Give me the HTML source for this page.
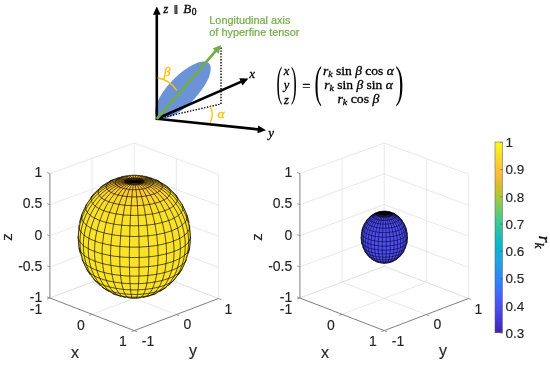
<!DOCTYPE html>
<html><head><meta charset="utf-8"><title>figure</title><style>html,body{margin:0;padding:0;background:#fff}svg{display:block}</style></head><body>
<svg width="550" height="368" viewBox="0 0 550 368">
<rect width="550" height="368" fill="#fff"/>
<line x1="49.9" y1="298" x2="134.2" y2="266.2" stroke="#e2e2e2" stroke-width="0.8"/>
<line x1="134.2" y1="266.2" x2="218.5" y2="298.5" stroke="#e2e2e2" stroke-width="0.8"/>
<line x1="92" y1="314.3" x2="176.3" y2="282.4" stroke="#e2e2e2" stroke-width="0.8"/>
<line x1="176.3" y1="314.6" x2="92" y2="282.1" stroke="#e2e2e2" stroke-width="0.8"/>
<line x1="49.9" y1="298" x2="134.2" y2="266.2" stroke="#e2e2e2" stroke-width="0.8"/>
<line x1="134.2" y1="266.2" x2="218.5" y2="298.5" stroke="#e2e2e2" stroke-width="0.8"/>
<line x1="49.9" y1="266.9" x2="134.2" y2="235.4" stroke="#e2e2e2" stroke-width="0.8"/>
<line x1="134.2" y1="235.4" x2="218.5" y2="267.4" stroke="#e2e2e2" stroke-width="0.8"/>
<line x1="49.9" y1="235.8" x2="134.2" y2="204.6" stroke="#e2e2e2" stroke-width="0.8"/>
<line x1="134.2" y1="204.6" x2="218.5" y2="236.3" stroke="#e2e2e2" stroke-width="0.8"/>
<line x1="49.9" y1="204.7" x2="134.2" y2="173.8" stroke="#e2e2e2" stroke-width="0.8"/>
<line x1="134.2" y1="173.8" x2="218.5" y2="205.3" stroke="#e2e2e2" stroke-width="0.8"/>
<line x1="49.9" y1="173.6" x2="134.2" y2="143" stroke="#e2e2e2" stroke-width="0.8"/>
<line x1="134.2" y1="143" x2="218.5" y2="174.2" stroke="#e2e2e2" stroke-width="0.8"/>
<line x1="134.2" y1="266.2" x2="134.2" y2="143" stroke="#e2e2e2" stroke-width="0.8"/>
<line x1="218.5" y1="298.5" x2="218.5" y2="174.2" stroke="#e2e2e2" stroke-width="0.8"/>
<line x1="92" y1="282.1" x2="92" y2="158.3" stroke="#e2e2e2" stroke-width="0.8"/>
<line x1="176.3" y1="282.4" x2="176.3" y2="158.6" stroke="#e2e2e2" stroke-width="0.8"/>
<clipPath id="clip0"><ellipse cx="134.3" cy="236.6" rx="56.2" ry="61.6"/></clipPath>
<ellipse cx="134.3" cy="236.6" rx="56.2" ry="61.6" fill="#fae22a"/>
<g clip-path="url(#clip0)">
<ellipse cx="134.3" cy="199.4" rx="43.1" ry="16" fill="#fbdc2c"/>
<ellipse cx="134.3" cy="192.2" rx="36.1" ry="13.5" fill="#fcd42f"/>
<ellipse cx="134.3" cy="186.5" rx="28.1" ry="10.5" fill="#fdc933"/>
<ellipse cx="134.3" cy="182.6" rx="19.1" ry="7.1" fill="#fdbe36"/>
<ellipse cx="134.3" cy="181.4" rx="9.4" ry="3.5" fill="#7a5a10"/>
</g>
<path d="M134.3 181.6L136.3 182.3L138.3 182.9L140.3 183.6L142.3 184.4L144.4 185.4L146.4 186.7L148.4 188.2L150.4 189.9L152.3 191.8L154.2 193.9L155.9 196.1L157.7 198.4L159.3 200.9L160.9 203.5L162.4 206.1L163.8 208.8L165.2 211.7L166.4 214.5L167.6 217.5L168.7 220.5L169.7 223.5L170.6 226.6L171.4 229.7L172.1 232.8L172.7 235.9L173.2 239L173.6 242.2L173.8 245.3L174 248.4L174 251.4L174 254.4L173.8 257.4L173.6 260.3L173.2 263.1L172.7 265.9L172.1 268.6L171.4 271.2L170.6 273.7L169.7 276.1L168.7 278.4L167.6 280.6L166.4 282.6L165.2 284.6L163.8 286.4L162.4 288L160.9 289.6L159.3 290.9L157.7 292.2L155.9 293.3L154.2 294.2L152.3 294.9M134.3 181.6L136.6 182.1L138.9 182.6L141.3 183.2L143.6 183.8L146 184.7L148.4 185.8L150.7 187.2L153 188.7L155.2 190.5L157.3 192.5L159.4 194.6L161.4 196.8L163.3 199.1L165.1 201.6L166.9 204.1L168.5 206.8L170.1 209.5L171.5 212.3L172.9 215.1L174.2 218L175.3 221L176.4 224L177.3 227.1L178.1 230.1L178.8 233.2L179.3 236.3L179.8 239.4L180.1 242.5L180.3 245.6L180.3 248.6L180.3 251.6L180.1 254.6L179.8 257.5L179.3 260.4L178.8 263.2L178.1 265.9L177.3 268.6L176.4 271.1L175.3 273.6L174.2 276L172.9 278.2L171.5 280.4L170.1 282.4L168.5 284.3L166.9 286.1L165.1 287.7L163.3 289.2L161.4 290.5L159.4 291.7M134.3 181.6L136.8 182L139.4 182.3L142 182.7L144.6 183.2L147.2 183.9L149.9 184.8L152.4 186L154.9 187.5L157.4 189.1L159.7 190.9L162 192.9L164.2 194.9L166.4 197.2L168.4 199.5L170.3 201.9L172.2 204.4L173.9 207L175.5 209.7L177 212.5L178.4 215.3L179.7 218.2L180.8 221.1L181.9 224.1L182.7 227.1L183.5 230.2L184.1 233.2L184.6 236.3L185 239.3L185.2 242.4L185.2 245.5L185.2 248.5L185 251.5L184.6 254.4L184.1 257.3L183.5 260.1L182.7 262.9L181.9 265.6L180.8 268.2L179.7 270.8L178.4 273.2L177 275.6L175.5 277.8L173.9 279.9L172.2 281.9L170.3 283.8L168.4 285.6M134.3 181.6L137 181.8L139.7 182L142.5 182.2L145.3 182.5L148.1 183L150.9 183.8L153.6 184.8L156.3 186.1L158.9 187.5L161.4 189.2L163.9 191L166.2 192.9L168.5 195L170.6 197.2L172.7 199.5L174.6 201.9L176.5 204.4L178.2 206.9L179.8 209.6L181.3 212.3L182.7 215.1L183.9 218L185 220.9L185.9 223.9L186.7 226.8L187.4 229.9L187.9 232.9L188.3 235.9L188.5 239L188.6 242L188.5 245L188.3 248L187.9 251L187.4 253.9L186.7 256.8L185.9 259.7L185 262.4L183.9 265.1L182.7 267.7L181.3 270.3L179.8 272.7L178.2 275M134.3 181.6L137.1 181.6L139.9 181.6L142.8 181.6L145.6 181.8L148.5 182.1L151.4 182.7L154.2 183.5L157 184.6L159.7 185.9L162.3 187.4L164.8 189L167.2 190.8L169.5 192.7L171.8 194.8L173.9 196.9L175.9 199.2L177.8 201.6L179.6 204L181.3 206.6L182.8 209.2L184.2 211.9L185.4 214.7L186.6 217.5L187.5 220.4L188.4 223.4L189.1 226.3L189.6 229.3L190 232.4L190.2 235.4L190.3 238.4L190.2 241.5L190 244.5L189.6 247.5L189.1 250.4L188.4 253.4M134.3 181.6L137.1 181.4L139.9 181.3L142.8 181.1L145.6 181L148.5 181.2L151.4 181.6L154.2 182.2L157 183.1L159.7 184.3L162.3 185.6L164.8 187L167.2 188.7L169.5 190.4L171.8 192.3L173.9 194.3L175.9 196.5L177.8 198.7L179.6 201.1L181.3 203.5L182.8 206.1L184.2 208.7L185.4 211.4L186.6 214.1L187.5 217L188.4 219.8L189.1 222.8M134.3 181.6L137 181.3L139.7 180.9L142.5 180.6L145.3 180.3L148.1 180.3L150.9 180.5L153.6 181L156.3 181.7L158.9 182.6L161.4 183.8L163.9 185.1L166.2 186.6L168.5 188.2L170.6 189.9L172.7 191.8L174.6 193.8L176.5 195.9L178.2 198.2M134.3 181.6L136.8 181.1L139.4 180.6L142 180L144.6 179.6L147.2 179.4L149.9 179.4L152.4 179.7L154.9 180.3L157.4 181.1L159.7 182.1L162 183.2L164.2 184.5L166.4 186L168.4 187.6M134.3 181.6L136.6 180.9L138.9 180.2L141.3 179.6L143.6 179L146 178.6L148.4 178.5L150.7 178.6L153 179L155.2 179.6L157.3 180.5L159.4 181.5M134.3 181.6L136.3 180.8L138.3 180L140.3 179.1L142.3 178.4L144.4 177.9L146.4 177.6L148.4 177.6L150.4 177.9L152.3 178.4M134.3 181.6L135.9 180.7L137.5 179.7L139.2 178.8L140.8 177.9L142.5 177.3L144.1 176.9L145.8 176.8L147.4 176.9M134.3 181.6L135.5 180.6L136.7 179.5L137.9 178.5L139.1 177.6L140.3 176.8L141.6 176.3L142.8 176.1M134.3 181.6L135 180.5L135.8 179.4L136.5 178.3L137.2 177.3L138 176.5L138.7 176L139.5 175.7M134.3 181.6L134.5 180.5L134.8 179.3L135 178.2L135.3 177.2L135.5 176.4L135.8 175.8M134.3 181.6L134.1 180.5L133.8 179.3L133.6 178.2L133.3 177.2L133.1 176.4L132.8 175.8M134.3 181.6L133.6 180.5L132.8 179.4L132.1 178.3L131.4 177.3L130.6 176.5L129.9 176L129.1 175.7M134.3 181.6L133.1 180.6L131.9 179.5L130.7 178.5L129.5 177.6L128.3 176.8L127 176.3L125.8 176.1M134.3 181.6L132.7 180.7L131.1 179.7L129.4 178.8L127.8 177.9L126.1 177.3L124.5 176.9L122.8 176.8L121.2 176.9M134.3 181.6L132.3 180.8L130.3 180L128.3 179.1L126.3 178.4L124.2 177.9L122.2 177.6L120.2 177.6L118.2 177.9L116.3 178.4M134.3 181.6L132 180.9L129.7 180.2L127.3 179.6L125 179L122.6 178.6L120.2 178.5L117.9 178.6L115.6 179L113.4 179.6L111.3 180.5L109.2 181.5M134.3 181.6L131.8 181.1L129.2 180.6L126.6 180L124 179.6L121.4 179.4L118.7 179.4L116.2 179.7L113.7 180.3L111.2 181.1L108.9 182.1L106.6 183.2L104.4 184.5L102.2 186L100.2 187.6M134.3 181.6L131.6 181.3L128.9 180.9L126.1 180.6L123.3 180.3L120.5 180.3L117.7 180.5L115 181L112.3 181.7L109.7 182.6L107.2 183.8L104.7 185.1L102.4 186.6L100.1 188.2L98 189.9L95.9 191.8L94 193.8L92.1 195.9L90.4 198.2M134.3 181.6L131.5 181.4L128.7 181.3L125.8 181.1L123 181L120.1 181.2L117.2 181.6L114.4 182.2L111.6 183.1L108.9 184.3L106.3 185.6L103.8 187L101.4 188.7L99.1 190.4L96.8 192.3L94.7 194.3L92.7 196.5L90.8 198.7L89 201.1L87.3 203.5L85.8 206.1L84.4 208.7L83.2 211.4L82 214.1L81.1 217L80.2 219.8L79.5 222.8M134.3 181.6L131.5 181.6L128.7 181.6L125.8 181.6L123 181.8L120.1 182.1L117.2 182.7L114.4 183.5L111.6 184.6L108.9 185.9L106.3 187.4L103.8 189L101.4 190.8L99.1 192.7L96.8 194.8L94.7 196.9L92.7 199.2L90.8 201.6L89 204L87.3 206.6L85.8 209.2L84.4 211.9L83.2 214.7L82 217.5L81.1 220.4L80.2 223.4L79.5 226.3L79 229.3L78.6 232.4L78.4 235.4L78.3 238.4L78.4 241.5L78.6 244.5L79 247.5L79.5 250.4L80.2 253.4M134.3 181.6L131.6 181.8L128.9 182L126.1 182.2L123.3 182.5L120.5 183L117.7 183.8L115 184.8L112.3 186.1L109.7 187.5L107.2 189.2L104.7 191L102.4 192.9L100.1 195L98 197.2L95.9 199.5L94 201.9L92.1 204.4L90.4 206.9L88.8 209.6L87.3 212.3L85.9 215.1L84.7 218L83.6 220.9L82.7 223.9L81.9 226.8L81.2 229.9L80.7 232.9L80.3 235.9L80.1 239L80 242L80.1 245L80.3 248L80.7 251L81.2 253.9L81.9 256.8L82.7 259.7L83.6 262.4L84.7 265.1L85.9 267.7L87.3 270.3L88.8 272.7L90.4 275M134.3 181.6L131.8 182L129.2 182.3L126.6 182.7L124 183.2L121.4 183.9L118.7 184.8L116.2 186L113.7 187.5L111.2 189.1L108.9 190.9L106.6 192.9L104.4 194.9L102.2 197.2L100.2 199.5L98.3 201.9L96.4 204.4L94.7 207L93.1 209.7L91.6 212.5L90.2 215.3L88.9 218.2L87.8 221.1L86.7 224.1L85.9 227.1L85.1 230.2L84.5 233.2L84 236.3L83.6 239.3L83.4 242.4L83.4 245.5L83.4 248.5L83.6 251.5L84 254.4L84.5 257.3L85.1 260.1L85.9 262.9L86.7 265.6L87.8 268.2L88.9 270.8L90.2 273.2L91.6 275.6L93.1 277.8L94.7 279.9L96.4 281.9L98.3 283.8L100.2 285.6M134.3 181.6L132 182.1L129.7 182.6L127.3 183.2L125 183.8L122.6 184.7L120.2 185.8L117.9 187.2L115.6 188.7L113.4 190.5L111.3 192.5L109.2 194.6L107.2 196.8L105.3 199.1L103.5 201.6L101.7 204.1L100.1 206.8L98.5 209.5L97.1 212.3L95.7 215.1L94.4 218L93.3 221L92.2 224L91.3 227.1L90.5 230.1L89.8 233.2L89.3 236.3L88.8 239.4L88.5 242.5L88.3 245.6L88.3 248.6L88.3 251.6L88.5 254.6L88.8 257.5L89.3 260.4L89.8 263.2L90.5 265.9L91.3 268.6L92.2 271.1L93.3 273.6L94.4 276L95.7 278.2L97.1 280.4L98.5 282.4L100.1 284.3L101.7 286.1L103.5 287.7L105.3 289.2L107.2 290.5L109.2 291.7M134.3 181.6L132.3 182.3L130.3 182.9L128.3 183.6L126.3 184.4L124.2 185.4L122.2 186.7L120.2 188.2L118.2 189.9L116.3 191.8L114.4 193.9L112.7 196.1L110.9 198.4L109.3 200.9L107.7 203.5L106.2 206.1L104.8 208.8L103.4 211.7L102.2 214.5L101 217.5L99.9 220.5L98.9 223.5L98 226.6L97.2 229.7L96.5 232.8L95.9 235.9L95.4 239L95 242.2L94.8 245.3L94.6 248.4L94.6 251.4L94.6 254.4L94.8 257.4L95 260.3L95.4 263.1L95.9 265.9L96.5 268.6L97.2 271.2L98 273.7L98.9 276.1L99.9 278.4L101 280.6L102.2 282.6L103.4 284.6L104.8 286.4L106.2 288L107.7 289.6L109.3 290.9L110.9 292.2L112.7 293.3L114.4 294.2L116.3 294.9M134.3 181.6L132.7 182.4L131.1 183.2L129.4 184L127.8 184.9L126.1 186L124.5 187.4L122.8 189L121.2 190.8L119.7 192.9L118.2 195L116.8 197.4L115.4 199.8L114 202.4L112.7 205L111.5 207.8L110.3 210.6L109.2 213.5L108.2 216.4L107.3 219.4L106.4 222.5L105.6 225.6L104.9 228.7L104.2 231.9L103.6 235L103.2 238.2L102.8 241.3L102.5 244.5L102.2 247.6L102.1 250.7L102.1 253.8L102.1 256.8L102.2 259.7L102.5 262.6L102.8 265.4L103.2 268.2L103.6 270.8L104.2 273.4L104.9 275.8L105.6 278.2L106.4 280.4L107.3 282.5L108.2 284.5L109.2 286.4L110.3 288.1L111.5 289.7L112.7 291.1L114 292.4L115.4 293.6L116.7 294.5L118.2 295.3L119.7 296L121.2 296.5M134.3 181.6L133.1 182.5L131.9 183.3L130.7 184.2L129.5 185.3L128.3 186.5L127 187.9L125.8 189.6L124.7 191.6L123.5 193.7L122.4 196L121.4 198.4L120.3 200.9L119.4 203.5L118.4 206.3L117.5 209.1L116.6 211.9L115.8 214.9L115.1 217.9L114.4 221L113.7 224.1L113.1 227.2L112.6 230.4L112.1 233.6L111.7 236.7L111.4 239.9L111.1 243.1L110.8 246.3L110.7 249.4L110.6 252.5L110.5 255.6L110.6 258.6L110.7 261.5L110.8 264.4L111.1 267.2L111.4 269.9L111.7 272.6L112.1 275.1L112.6 277.5L113.1 279.8L113.7 282L114.4 284.1L115.1 286L115.8 287.8L116.6 289.5L117.5 291L118.4 292.4L119.4 293.6L120.3 294.6L121.4 295.5L122.4 296.3L123.5 296.8L124.6 297.2L125.8 297.5M134.3 181.6L133.6 182.5L132.8 183.5L132.1 184.4L131.4 185.5L130.6 186.8L129.9 188.3L129.1 190.1L128.4 192.1L127.7 194.2L127 196.6L126.4 199L125.8 201.6L125.1 204.3L124.6 207.1L124 209.9L123.5 212.9L123 215.9L122.5 218.9L122.1 222L121.7 225.2L121.3 228.3L121 231.5L120.7 234.7L120.5 237.9L120.3 241.1L120.1 244.3L119.9 247.5L119.8 250.7L119.8 253.8L119.8 256.8L119.8 259.8L119.8 262.8L119.9 265.6L120.1 268.4L120.2 271.1L120.5 273.7L120.7 276.2L121 278.6L121.3 280.9L121.7 283.1L122.1 285.1L122.5 287L123 288.8L123.5 290.4L124 291.9L124.6 293.2L125.1 294.4L125.8 295.4L126.4 296.2L127 296.9L127.7 297.4L128.4 297.8L129.1 297.9M134.3 181.6L134.1 182.6L133.8 183.5L133.6 184.5L133.3 185.6L133.1 187L132.8 188.5L132.6 190.3L132.3 192.3L132.1 194.5L131.9 196.9L131.6 199.4L131.4 202L131.2 204.7L131 207.5L130.8 210.4L130.7 213.3L130.5 216.4L130.3 219.4L130.2 222.5L130.1 225.7L129.9 228.9L129.8 232.1L129.7 235.3L129.6 238.5L129.6 241.8L129.5 245L129.5 248.1L129.4 251.3L129.4 254.4L129.4 257.5L129.4 260.5L129.4 263.4L129.5 266.3L129.5 269.1L129.6 271.7L129.6 274.3L129.7 276.8L129.8 279.2L129.9 281.5L130.1 283.6L130.2 285.6L130.3 287.5L130.5 289.3L130.7 290.9L130.8 292.3L131 293.6L131.2 294.8L131.4 295.7L131.6 296.5L131.9 297.2L132.1 297.7L132.3 298L132.5 298.2M134.3 181.6L134.5 182.6L134.8 183.5L135 184.5L135.3 185.6L135.5 187L135.8 188.5L136 190.3L136.3 192.3L136.5 194.5L136.7 196.9L137 199.4L137.2 202L137.4 204.7L137.6 207.5L137.8 210.4L137.9 213.3L138.1 216.4L138.3 219.4L138.4 222.5L138.5 225.7L138.7 228.9L138.8 232.1L138.9 235.3L139 238.5L139 241.8L139.1 245L139.1 248.1L139.2 251.3L139.2 254.4L139.2 257.5L139.2 260.5L139.2 263.4L139.1 266.3L139.1 269.1L139 271.7L139 274.3L138.9 276.8L138.8 279.2L138.7 281.5L138.5 283.6L138.4 285.6L138.3 287.5L138.1 289.3L137.9 290.9L137.8 292.3L137.6 293.6L137.4 294.8L137.2 295.7L137 296.5L136.7 297.2L136.5 297.7L136.3 298L136.1 298.2M134.3 181.6L135 182.5L135.8 183.5L136.5 184.4L137.2 185.5L138 186.8L138.7 188.3L139.5 190.1L140.2 192.1L140.9 194.2L141.6 196.6L142.2 199L142.8 201.6L143.5 204.3L144 207.1L144.6 209.9L145.1 212.9L145.6 215.9L146.1 218.9L146.5 222L146.9 225.2L147.3 228.3L147.6 231.5L147.9 234.7L148.1 237.9L148.3 241.1L148.5 244.3L148.7 247.5L148.8 250.7L148.8 253.8L148.8 256.8L148.8 259.8L148.8 262.8L148.7 265.6L148.5 268.4L148.4 271.1L148.1 273.7L147.9 276.2L147.6 278.6L147.3 280.9L146.9 283.1L146.5 285.1L146.1 287L145.6 288.8L145.1 290.4L144.6 291.9L144 293.2L143.5 294.4L142.8 295.4L142.2 296.2L141.6 296.9L140.9 297.4L140.2 297.8L139.5 297.9M134.3 181.6L135.5 182.5L136.7 183.3L137.9 184.2L139.1 185.3L140.3 186.5L141.6 187.9L142.8 189.6L143.9 191.6L145.1 193.7L146.2 196L147.2 198.4L148.3 200.9L149.2 203.5L150.2 206.3L151.1 209.1L152 211.9L152.8 214.9L153.5 217.9L154.2 221L154.9 224.1L155.5 227.2L156 230.4L156.5 233.6L156.9 236.7L157.2 239.9L157.5 243.1L157.8 246.3L157.9 249.4L158 252.5L158.1 255.6L158 258.6L157.9 261.5L157.8 264.4L157.5 267.2L157.2 269.9L156.9 272.6L156.5 275.1L156 277.5L155.5 279.8L154.9 282L154.2 284.1L153.5 286L152.8 287.8L152 289.5L151.1 291L150.2 292.4L149.2 293.6L148.3 294.6L147.2 295.5L146.2 296.3L145.1 296.8L144 297.2L142.8 297.5M134.3 181.6L135.9 182.4L137.5 183.2L139.2 184L140.8 184.9L142.5 186L144.1 187.4L145.8 189L147.4 190.8L148.9 192.9L150.4 195L151.8 197.4L153.2 199.8L154.6 202.4L155.9 205L157.1 207.8L158.3 210.6L159.4 213.5L160.4 216.4L161.3 219.4L162.2 222.5L163 225.6L163.7 228.7L164.4 231.9L165 235L165.4 238.2L165.8 241.3L166.1 244.5L166.4 247.6L166.5 250.7L166.5 253.8L166.5 256.8L166.4 259.7L166.1 262.6L165.8 265.4L165.4 268.2L165 270.8L164.4 273.4L163.7 275.8L163 278.2L162.2 280.4L161.3 282.5L160.4 284.5L159.4 286.4L158.3 288.1L157.1 289.7L155.9 291.1L154.6 292.4L153.2 293.6L151.9 294.5L150.4 295.3L148.9 296L147.4 296.5M134.3 177.8L133.8 177.9L133.3 177.9L132.8 177.9L132.3 177.9L131.9 178L131.4 178L130.9 178.1L130.5 178.2L130 178.2L129.6 178.3L129.2 178.4L128.7 178.5L128.4 178.6L128 178.8L127.6 178.9L127.3 179L127 179.2L126.7 179.3L126.4 179.4L126.1 179.6L125.9 179.8L125.7 179.9L125.5 180.1L125.3 180.3L125.2 180.5L125.1 180.6L125 180.8L124.9 181L124.9 181.2L124.9 181.4L124.9 181.6L124.9 181.7L125 181.9L125.1 182.1L125.2 182.3L125.3 182.5L125.5 182.6L125.7 182.8L125.9 183L126.1 183.1L126.4 183.3L126.7 183.4L127 183.6L127.3 183.7L127.6 183.9L128 184L128.4 184.1L128.7 184.2L129.2 184.3L129.6 184.4L130 184.5L130.5 184.6L130.9 184.7L131.4 184.7L131.9 184.8L132.3 184.8L132.8 184.8L133.3 184.9L133.8 184.9L134.3 184.9L134.8 184.9L135.3 184.9L135.8 184.8L136.3 184.8L136.7 184.8L137.2 184.7L137.7 184.7L138.1 184.6L138.6 184.5L139 184.4L139.4 184.3L139.9 184.2L140.2 184.1L140.6 184L141 183.9L141.3 183.7L141.6 183.6L141.9 183.4L142.2 183.3L142.5 183.1L142.7 183L142.9 182.8L143.1 182.6L143.3 182.5L143.4 182.3L143.5 182.1L143.6 181.9L143.7 181.7L143.7 181.6L143.7 181.4L143.7 181.2L143.7 181L143.6 180.8L143.5 180.6L143.4 180.5L143.3 180.3L143.1 180.1L142.9 179.9L142.7 179.8L142.5 179.6L142.2 179.4L141.9 179.3L141.6 179.2L141.3 179L141 178.9L140.6 178.8L140.2 178.6L139.9 178.5L139.4 178.4L139 178.3L138.6 178.2L138.1 178.2L137.7 178.1L137.2 178L136.7 178L136.3 177.9L135.8 177.9L135.3 177.9L134.8 177.9L134.3 177.8M134.3 175.5L133.3 175.5L132.3 175.5L131.3 175.6L130.3 175.7L129.4 175.8L128.4 175.9L127.5 176L126.5 176.1L125.6 176.3L124.8 176.5L123.9 176.7L123.1 176.9L122.3 177.1L121.5 177.3L120.8 177.6L120.1 177.9L119.5 178.1L118.9 178.4L118.3 178.7L117.8 179.1L117.3 179.4L116.9 179.7L116.5 180.1L116.2 180.4L115.9 180.8L115.7 181.1L115.5 181.5L115.3 181.9L115.3 182.2L115.2 182.6L115.3 183L115.3 183.4L115.5 183.7L115.7 184.1L115.9 184.5L116.2 184.8L116.5 185.2L116.9 185.5L117.3 185.8L117.8 186.2L118.3 186.5L118.9 186.8L119.5 187.1L120.1 187.4L120.8 187.6L121.5 187.9L122.3 188.1L123.1 188.4L123.9 188.6L124.8 188.8L125.6 188.9L126.5 189.1L127.5 189.2L128.4 189.4L129.4 189.5L130.3 189.6L131.3 189.6L132.3 189.7L133.3 189.7L134.3 189.7L135.3 189.7L136.3 189.7L137.3 189.6L138.3 189.6L139.2 189.5L140.2 189.4L141.1 189.2L142.1 189.1L143 188.9L143.8 188.8L144.7 188.6L145.5 188.4L146.3 188.1L147.1 187.9L147.8 187.6L148.5 187.4L149.1 187.1L149.7 186.8L150.3 186.5L150.8 186.2L151.3 185.8L151.7 185.5L152.1 185.2L152.4 184.8L152.7 184.5L152.9 184.1L153.1 183.7L153.3 183.4L153.3 183L153.4 182.6L153.3 182.2L153.3 181.9L153.1 181.5L152.9 181.1L152.7 180.8L152.4 180.4L152.1 180.1L151.7 179.7L151.3 179.4L150.8 179.1L150.3 178.7L149.7 178.4L149.1 178.1L148.5 177.9L147.8 177.6L147.1 177.3L146.3 177.1L145.5 176.9L144.7 176.7L143.8 176.5L143 176.3L142.1 176.1L141.1 176L140.2 175.9L139.2 175.8L138.3 175.7L137.3 175.6L136.3 175.5L135.3 175.5L134.3 175.5M112.5 179.9L111.6 180.3L110.8 180.8L110 181.2L109.3 181.7L108.7 182.2L108.1 182.7L107.6 183.2L107.2 183.8L106.8 184.3L106.6 184.8L106.4 185.4L106.3 185.9L106.2 186.5L106.3 187L106.4 187.6L106.6 188.1L106.8 188.6L107.2 189.2L107.6 189.7L108.1 190.2L108.7 190.7L109.3 191.2L110 191.7L110.8 192.2L111.6 192.6L112.5 193.1L113.4 193.5L114.4 193.9L115.5 194.2L116.6 194.6L117.8 194.9L119 195.2L120.3 195.5L121.6 195.8L122.9 196L124.2 196.2L125.6 196.4L127 196.6L128.5 196.7L129.9 196.8L131.4 196.9L132.8 196.9L134.3 196.9L135.8 196.9L137.2 196.9L138.7 196.8L140.1 196.7L141.6 196.6L143 196.4L144.4 196.2L145.7 196L147 195.8L148.3 195.5L149.6 195.2L150.8 194.9L152 194.6L153.1 194.2L154.2 193.9L155.2 193.5L156.1 193.1L157 192.6L157.8 192.2L158.6 191.7L159.3 191.2L159.9 190.7L160.5 190.2L161 189.7L161.4 189.2L161.8 188.6L162 188.1L162.2 187.6L162.3 187L162.4 186.5L162.3 185.9L162.2 185.4L162 184.8L161.8 184.3L161.4 183.8L161 183.2L160.5 182.7L159.9 182.2L159.3 181.7L158.6 181.2L157.8 180.8L157 180.3L156.1 179.9M101.3 186.7L100.6 187.4L99.9 188.1L99.4 188.7L99 189.4L98.6 190.1L98.4 190.8L98.2 191.5L98.2 192.2L98.2 192.9L98.4 193.6L98.6 194.3L99 195L99.4 195.7L99.9 196.4L100.6 197L101.3 197.7L102.1 198.3L103 199L104 199.6L105.1 200.1L106.2 200.7L107.5 201.2L108.8 201.7L110.1 202.2L111.6 202.7L113.1 203.1L114.6 203.5L116.2 203.9L117.9 204.2L119.6 204.5L121.4 204.8L123.1 205L125 205.2L126.8 205.4L128.6 205.5L130.5 205.6L132.4 205.7L134.3 205.7L136.2 205.7L138.1 205.6L140 205.5L141.8 205.4L143.6 205.2L145.5 205L147.2 204.8L149 204.5L150.7 204.2L152.4 203.9L154 203.5L155.5 203.1L157 202.7L158.5 202.2L159.8 201.7L161.1 201.2L162.4 200.7L163.5 200.1L164.6 199.6L165.6 199L166.5 198.3L167.3 197.7L168 197L168.7 196.4L169.2 195.7L169.6 195L170 194.3L170.2 193.6L170.4 192.9L170.4 192.2L170.4 191.5L170.2 190.8L170 190.1L169.6 189.4L169.2 188.7L168.7 188.1L168 187.4L167.3 186.7M93.4 194.4L92.7 195.2L92.2 196L91.8 196.9L91.5 197.7L91.3 198.5L91.2 199.4L91.3 200.2L91.5 201L91.8 201.9L92.2 202.7L92.7 203.5L93.4 204.3L94.1 205.1L95 205.9L95.9 206.6L97 207.4L98.2 208.1L99.5 208.8L100.8 209.5L102.3 210.1L103.9 210.7L105.5 211.3L107.2 211.8L109 212.3L110.9 212.8L112.8 213.3L114.8 213.7L116.8 214L118.9 214.3L121 214.6L123.2 214.9L125.3 215.1L127.6 215.2L129.8 215.3L132 215.4L134.3 215.4L136.6 215.4L138.8 215.3L141 215.2L143.3 215.1L145.4 214.9L147.6 214.6L149.7 214.3L151.8 214L153.8 213.7L155.8 213.3L157.7 212.8L159.6 212.3L161.4 211.8L163.1 211.3L164.7 210.7L166.3 210.1L167.8 209.5L169.1 208.8L170.4 208.1L171.6 207.4L172.7 206.6L173.6 205.9L174.5 205.1L175.2 204.3L175.9 203.5L176.4 202.7L176.8 201.9L177.1 201L177.3 200.2L177.4 199.4L177.3 198.5L177.1 197.7L176.8 196.9L176.4 196L175.9 195.2L175.2 194.4M86.7 203.9L86.2 204.8L85.9 205.7L85.7 206.7L85.6 207.6L85.7 208.6L85.9 209.5L86.2 210.5L86.7 211.4L87.3 212.3L88 213.2L88.9 214.1L89.8 215L90.9 215.9L92.2 216.7L93.5 217.5L94.9 218.3L96.5 219L98.1 219.8L99.9 220.5L101.7 221.1L103.7 221.7L105.7 222.3L107.8 222.8L110 223.3L112.2 223.8L114.5 224.2L116.9 224.6L119.3 224.9L121.7 225.2L124.2 225.4L126.7 225.5L129.2 225.7L131.8 225.7L134.3 225.8L136.8 225.7L139.4 225.7L141.9 225.5L144.4 225.4L146.9 225.2L149.3 224.9L151.7 224.6L154.1 224.2L156.4 223.8L158.6 223.3L160.8 222.8L162.9 222.3L164.9 221.7L166.9 221.1L168.7 220.5L170.5 219.8L172.1 219L173.7 218.3L175.1 217.5L176.4 216.7L177.7 215.9L178.8 215L179.7 214.1L180.6 213.2L181.3 212.3L181.9 211.4L182.4 210.5L182.7 209.5L182.9 208.6L183 207.6L182.9 206.7L182.7 205.7L182.4 204.8L181.9 203.9M81.8 214.7L81.6 215.8L81.5 216.8L81.6 217.8L81.8 218.8L82.1 219.9L82.6 220.9L83.3 221.9L84.1 222.9L85 223.8L86.1 224.8L87.2 225.7L88.6 226.6L90 227.5L91.6 228.4L93.3 229.2L95.1 230L97 230.7L99 231.4L101.1 232.1L103.3 232.7L105.5 233.3L107.9 233.8L110.3 234.3L112.8 234.8L115.4 235.2L118 235.5L120.6 235.8L123.3 236L126 236.2L128.8 236.4L131.5 236.4L134.3 236.5L137.1 236.4L139.8 236.4L142.6 236.2L145.3 236L148 235.8L150.6 235.5L153.2 235.2L155.8 234.8L158.3 234.3L160.7 233.8L163.1 233.3L165.3 232.7L167.5 232.1L169.6 231.4L171.6 230.7L173.5 230L175.3 229.2L177 228.4L178.6 227.5L180 226.6L181.4 225.7L182.5 224.8L183.6 223.8L184.5 222.9L185.3 221.9L186 220.9L186.5 219.9L186.8 218.8L187 217.8L187.1 216.8L187 215.8L186.8 214.7M79 225.5L79 226.5L79 227.6L79.3 228.7L79.6 229.8L80.2 230.8L80.8 231.9L81.7 232.9L82.6 233.9L83.7 234.9L85 235.9L86.4 236.9L87.9 237.8L89.5 238.7L91.3 239.5L93.2 240.3L95.2 241.1L97.3 241.9L99.5 242.6L101.8 243.2L104.2 243.8L106.6 244.4L109.2 244.9L111.8 245.4L114.5 245.8L117.2 246.2L120 246.5L122.8 246.7L125.6 246.9L128.5 247.1L131.4 247.1L134.3 247.2L137.2 247.1L140.1 247.1L143 246.9L145.8 246.7L148.6 246.5L151.4 246.2L154.1 245.8L156.8 245.4L159.4 244.9L162 244.4L164.4 243.8L166.8 243.2L169.1 242.6L171.3 241.9L173.4 241.1L175.4 240.3L177.3 239.5L179.1 238.7L180.7 237.8L182.2 236.9L183.6 235.9L184.9 234.9L186 233.9L186.9 232.9L187.8 231.9L188.4 230.8L189 229.8L189.3 228.7L189.6 227.6L189.6 226.5L189.6 225.5M78.1 236.6L78.2 237.7L78.4 238.8L78.8 239.9L79.3 241L80 242L80.9 243.1L81.8 244.1L83 245.1L84.2 246.1L85.6 247.1L87.2 248L88.8 248.9L90.6 249.8L92.5 250.6L94.6 251.4L96.7 252.2L98.9 252.9L101.3 253.5L103.7 254.2L106.2 254.7L108.8 255.3L111.4 255.7L114.2 256.2L116.9 256.5L119.8 256.8L122.6 257.1L125.5 257.3L128.4 257.4L131.4 257.5L134.3 257.5L137.2 257.5L140.2 257.4L143.1 257.3L146 257.1L148.8 256.8L151.7 256.5L154.4 256.2L157.2 255.7L159.8 255.3L162.4 254.7L164.9 254.2L167.3 253.5L169.7 252.9L171.9 252.2L174 251.4L176.1 250.6L178 249.8L179.8 248.9L181.4 248L183 247.1L184.4 246.1L185.6 245.1L186.8 244.1L187.7 243.1L188.6 242L189.3 241L189.8 239.9L190.2 238.8L190.4 237.7L190.5 236.6M79 247.7L79.3 248.8L79.6 249.9L80.2 250.9L80.8 252L81.7 253L82.6 254.1L83.7 255L85 256L86.4 257L87.9 257.9L89.5 258.8L91.3 259.6L93.2 260.5L95.2 261.2L97.3 262L99.5 262.7L101.8 263.3L104.2 264L106.6 264.5L109.2 265L111.8 265.5L114.5 265.9L117.2 266.3L120 266.6L122.8 266.8L125.6 267L128.5 267.2L131.4 267.3L134.3 267.3L137.2 267.3L140.1 267.2L143 267L145.8 266.8L148.6 266.6L151.4 266.3L154.1 265.9L156.8 265.5L159.4 265L162 264.5L164.4 264L166.8 263.3L169.1 262.7L171.3 262L173.4 261.2L175.4 260.5L177.3 259.6L179.1 258.8L180.7 257.9L182.2 257L183.6 256L184.9 255L186 254.1L186.9 253L187.8 252L188.4 250.9L189 249.9L189.3 248.8L189.6 247.7M82.1 259.5L82.6 260.5L83.3 261.5L84.1 262.5L85 263.5L86.1 264.4L87.2 265.3L88.6 266.3L90 267.1L91.6 268L93.3 268.8L95.1 269.6L97 270.3L99 271L101.1 271.7L103.3 272.3L105.5 272.9L107.9 273.5L110.3 273.9L112.8 274.4L115.4 274.8L118 275.1L120.6 275.4L123.3 275.7L126 275.9L128.8 276L131.5 276.1L134.3 276.1L137.1 276.1L139.8 276L142.6 275.9L145.3 275.7L148 275.4L150.6 275.1L153.2 274.8L155.8 274.4L158.3 273.9L160.7 273.5L163.1 272.9L165.3 272.3L167.5 271.7L169.6 271L171.6 270.3L173.5 269.6L175.3 268.8L177 268L178.6 267.1L180 266.3L181.4 265.3L182.5 264.4L183.6 263.5L184.5 262.5L185.3 261.5L186 260.5L186.5 259.5M86.7 269.3L87.3 270.3L88 271.2L88.9 272.1L89.8 272.9L90.9 273.8L92.2 274.6L93.5 275.4L94.9 276.2L96.5 277L98.1 277.7L99.9 278.4L101.7 279L103.7 279.7L105.7 280.2L107.8 280.8L110 281.3L112.2 281.7L114.5 282.1L116.9 282.5L119.3 282.8L121.7 283.1L124.2 283.3L126.7 283.5L129.2 283.6L131.8 283.7L134.3 283.7L136.8 283.7L139.4 283.6L141.9 283.5L144.4 283.3L146.9 283.1L149.3 282.8L151.7 282.5L154.1 282.1L156.4 281.7L158.6 281.3L160.8 280.8L162.9 280.2L164.9 279.7L166.9 279L168.7 278.4L170.5 277.7L172.1 277L173.7 276.2L175.1 275.4L176.4 274.6L177.7 273.8L178.8 272.9L179.7 272.1L180.6 271.2L181.3 270.3L181.9 269.3M93.4 278.8L94.1 279.6L95 280.4L95.9 281.1L97 281.9L98.2 282.6L99.5 283.3L100.8 283.9L102.3 284.6L103.9 285.2L105.5 285.8L107.2 286.3L109 286.8L110.9 287.3L112.8 287.7L114.8 288.1L116.8 288.5L118.9 288.8L121 289.1L123.2 289.3L125.3 289.5L127.6 289.7L129.8 289.8L132 289.9L134.3 289.9L136.6 289.9L138.8 289.8L141 289.7L143.3 289.5L145.4 289.3L147.6 289.1L149.7 288.8L151.8 288.5L153.8 288.1L155.8 287.7L157.7 287.3L159.6 286.8L161.4 286.3L163.1 285.8L164.7 285.2L166.3 284.6L167.8 283.9L169.1 283.3L170.4 282.6L171.6 281.9L172.7 281.1L173.6 280.4L174.5 279.6L175.2 278.8M102.1 287.1L103 287.7L104 288.3L105.1 288.9L106.2 289.4L107.5 290L108.8 290.5L110.1 291L111.6 291.4L113.1 291.9L114.6 292.3L116.2 292.6L117.9 293L119.6 293.3L121.4 293.5L123.1 293.8L125 294L126.8 294.1L128.6 294.3L130.5 294.4L132.4 294.4L134.3 294.4L136.2 294.4L138.1 294.4L140 294.3L141.8 294.1L143.6 294L145.5 293.8L147.2 293.5L149 293.3L150.7 293L152.4 292.6L154 292.3L155.5 291.9L157 291.4L158.5 291L159.8 290.5L161.1 290L162.4 289.4L163.5 288.9L164.6 288.3L165.6 287.7L166.5 287.1M112.5 293.4L113.4 293.8L114.4 294.2L115.5 294.6L116.6 294.9L117.8 295.2L119 295.6L120.2 295.8L121.5 296.1L122.9 296.3L124.2 296.5L125.6 296.7L127 296.9L128.5 297L129.9 297.1L131.4 297.2L132.8 297.2L134.3 297.2L135.8 297.2L137.2 297.2L138.7 297.1L140.1 297L141.6 296.9L143 296.7L144.4 296.5L145.7 296.3L147.1 296.1L148.4 295.8L149.6 295.6L150.8 295.2L152 294.9L153.1 294.6L154.2 294.2L155.2 293.8L156.1 293.4M129.3 298L130.3 298L131.3 298.1L132.3 298.2L133.3 298.2L134.3 298.2L135.3 298.2L136.3 298.2L137.3 298.1L138.3 298L139.3 298" fill="none" stroke="#000" stroke-opacity="0.82" stroke-width="0.8" stroke-linejoin="round"/>
<ellipse cx="134.3" cy="236.6" rx="56.2" ry="61.6" fill="none" stroke="#000" stroke-opacity="0.55" stroke-width="0.7"/>
<line x1="49.9" y1="298" x2="49.9" y2="173.6" stroke="#808080" stroke-width="1"/>
<line x1="49.9" y1="298" x2="134.2" y2="330.6" stroke="#808080" stroke-width="1"/>
<line x1="134.2" y1="330.6" x2="218.5" y2="298.5" stroke="#808080" stroke-width="1"/>
<line x1="49.9" y1="298" x2="47.1" y2="296.9" stroke="#808080" stroke-width="0.8"/>
<line x1="49.9" y1="266.9" x2="47.1" y2="265.8" stroke="#808080" stroke-width="0.8"/>
<line x1="49.9" y1="235.8" x2="47.1" y2="234.7" stroke="#808080" stroke-width="0.8"/>
<line x1="49.9" y1="204.7" x2="47.1" y2="203.6" stroke="#808080" stroke-width="0.8"/>
<line x1="49.9" y1="173.6" x2="47.1" y2="172.5" stroke="#808080" stroke-width="0.8"/>
<line x1="49.9" y1="298" x2="47.1" y2="299.1" stroke="#808080" stroke-width="0.8"/>
<line x1="134.2" y1="330.6" x2="137" y2="331.7" stroke="#808080" stroke-width="0.8"/>
<line x1="92" y1="314.3" x2="89.2" y2="315.4" stroke="#808080" stroke-width="0.8"/>
<line x1="176.3" y1="314.6" x2="179.2" y2="315.7" stroke="#808080" stroke-width="0.8"/>
<line x1="134.2" y1="330.6" x2="131.4" y2="331.7" stroke="#808080" stroke-width="0.8"/>
<line x1="218.5" y1="298.5" x2="221.3" y2="299.6" stroke="#808080" stroke-width="0.8"/>
<g font-family="'Liberation Sans', Arial, sans-serif" fill="#262626" stroke="#262626" stroke-width="0.15">
<text x="42.3" y="301.7" text-anchor="end" font-size="14">-1</text>
<text x="42.3" y="270.6" text-anchor="end" font-size="14">-0.5</text>
<text x="42.3" y="239.5" text-anchor="end" font-size="14">0</text>
<text x="42.3" y="208.4" text-anchor="end" font-size="14">0.5</text>
<text x="42.3" y="177.3" text-anchor="end" font-size="14">1</text>
<text x="42.3" y="314.4" text-anchor="end" font-size="14">-1</text>
<text x="80.8" y="330" text-anchor="middle" font-size="14">0</text>
<text x="123" y="346.1" text-anchor="middle" font-size="14">1</text>
<text x="148" y="346.1" text-anchor="middle" font-size="14">-1</text>
<text x="187.3" y="328.6" text-anchor="middle" font-size="14">0</text>
<text x="228.4" y="313.7" text-anchor="middle" font-size="14">1</text>
<text x="74.9" y="358" text-anchor="middle" font-size="16">x</text>
<text x="192.9" y="355.5" text-anchor="middle" font-size="16">y</text>
<text transform="translate(11.6 237) rotate(-90)" text-anchor="middle" font-size="15">z</text>
</g>
<line x1="299.9" y1="298" x2="384.2" y2="266.2" stroke="#e2e2e2" stroke-width="0.8"/>
<line x1="384.2" y1="266.2" x2="468.5" y2="298.5" stroke="#e2e2e2" stroke-width="0.8"/>
<line x1="342" y1="314.3" x2="426.4" y2="282.4" stroke="#e2e2e2" stroke-width="0.8"/>
<line x1="426.4" y1="314.6" x2="342" y2="282.1" stroke="#e2e2e2" stroke-width="0.8"/>
<line x1="299.9" y1="298" x2="384.2" y2="266.2" stroke="#e2e2e2" stroke-width="0.8"/>
<line x1="384.2" y1="266.2" x2="468.5" y2="298.5" stroke="#e2e2e2" stroke-width="0.8"/>
<line x1="299.9" y1="266.9" x2="384.2" y2="235.4" stroke="#e2e2e2" stroke-width="0.8"/>
<line x1="384.2" y1="235.4" x2="468.5" y2="267.4" stroke="#e2e2e2" stroke-width="0.8"/>
<line x1="299.9" y1="235.8" x2="384.2" y2="204.6" stroke="#e2e2e2" stroke-width="0.8"/>
<line x1="384.2" y1="204.6" x2="468.5" y2="236.3" stroke="#e2e2e2" stroke-width="0.8"/>
<line x1="299.9" y1="204.7" x2="384.2" y2="173.8" stroke="#e2e2e2" stroke-width="0.8"/>
<line x1="384.2" y1="173.8" x2="468.5" y2="205.3" stroke="#e2e2e2" stroke-width="0.8"/>
<line x1="299.9" y1="173.6" x2="384.2" y2="143" stroke="#e2e2e2" stroke-width="0.8"/>
<line x1="384.2" y1="143" x2="468.5" y2="174.2" stroke="#e2e2e2" stroke-width="0.8"/>
<line x1="384.2" y1="266.2" x2="384.2" y2="143" stroke="#e2e2e2" stroke-width="0.8"/>
<line x1="468.5" y1="298.5" x2="468.5" y2="174.2" stroke="#e2e2e2" stroke-width="0.8"/>
<line x1="342" y1="282.1" x2="342" y2="158.3" stroke="#e2e2e2" stroke-width="0.8"/>
<line x1="426.4" y1="282.4" x2="426.4" y2="158.6" stroke="#e2e2e2" stroke-width="0.8"/>
<clipPath id="clip250"><ellipse cx="384.3" cy="237.2" rx="23.2" ry="26.1"/></clipPath>
<ellipse cx="384.3" cy="237.2" rx="23.2" ry="26.1" fill="#4c4cf8"/>
<g clip-path="url(#clip250)">
<ellipse cx="384.3" cy="214.2" rx="7.9" ry="3" fill="#2a2a9a"/>
<ellipse cx="384.3" cy="213.5" rx="3.9" ry="1.5" fill="#08081c"/>
</g>
<path d="M384.3 213.4L385.1 213.7L386 214L386.8 214.4L387.7 214.8L388.5 215.3L389.3 215.9L390.1 216.6L390.9 217.4L391.7 218.2L392.5 219.1L393.2 220L393.9 221L394.6 222.1L395.3 223.1L395.9 224.3L396.5 225.4L397 226.6L397.5 227.8L398 229.1L398.5 230.4L398.9 231.6L399.3 232.9L399.6 234.3L399.9 235.6L400.1 236.9L400.3 238.2L400.5 239.6L400.6 240.9L400.7 242.2L400.7 243.5L400.7 244.8L400.6 246L400.5 247.2L400.3 248.4L400.1 249.6L399.9 250.8L399.6 251.9L399.3 252.9L398.9 253.9L398.5 254.9L398 255.8L397.5 256.7L397 257.5L396.5 258.3L395.9 259L395.3 259.7L394.6 260.2L393.9 260.8L393.2 261.2L392.5 261.6L391.7 261.9M384.3 213.4L385.3 213.6L386.2 213.9L387.2 214.2L388.2 214.6L389.2 215L390.1 215.6L391.1 216.2L392 216.9L392.9 217.6L393.8 218.5L394.6 219.4L395.4 220.3L396.2 221.3L397 222.4L397.7 223.4L398.4 224.5L399 225.7L399.6 226.9L400.2 228.1L400.7 229.3L401.2 230.6L401.6 231.9L402 233.2L402.3 234.5L402.6 235.8L402.9 237.1L403 238.4L403.2 239.7L403.2 241L403.3 242.3L403.2 243.6L403.2 244.8L403 246.1L402.9 247.3L402.6 248.5L402.3 249.6L402 250.8L401.6 251.8L401.2 252.9L400.7 253.9L400.2 254.8L399.6 255.8L399 256.6L398.4 257.4L397.7 258.2L397 258.9L396.2 259.5L395.4 260.1L394.6 260.6M384.3 213.4L385.4 213.6L386.4 213.8L387.5 214L388.6 214.3L389.7 214.7L390.7 215.2L391.8 215.7L392.8 216.3L393.8 217L394.8 217.8L395.7 218.6L396.6 219.5L397.5 220.5L398.3 221.5L399.1 222.5L399.9 223.6L400.6 224.7L401.3 225.8L401.9 227L402.5 228.2L403 229.4L403.5 230.6L403.9 231.9L404.3 233.2L404.6 234.5L404.8 235.8L405 237.1L405.2 238.4L405.3 239.7L405.3 241L405.3 242.2L405.2 243.5L405 244.7L404.8 246L404.6 247.2L404.3 248.4L403.9 249.5L403.5 250.6L403 251.7L402.5 252.7L401.9 253.7L401.3 254.7L400.6 255.6L399.9 256.4L399.1 257.2L398.3 258M384.3 213.4L385.4 213.5L386.6 213.6L387.7 213.8L388.9 214L390 214.3L391.2 214.7L392.3 215.2L393.4 215.7L394.4 216.4L395.5 217.1L396.5 217.9L397.4 218.7L398.4 219.6L399.3 220.5L400.1 221.5L400.9 222.5L401.7 223.5L402.4 224.6L403.1 225.7L403.7 226.9L404.2 228.1L404.7 229.3L405.2 230.5L405.6 231.8L405.9 233.1L406.2 234.3L406.4 235.6L406.5 236.9L406.6 238.2L406.7 239.5L406.6 240.8L406.5 242.1L406.4 243.3L406.2 244.6L405.9 245.8L405.6 247L405.2 248.1L404.7 249.3L404.2 250.4L403.7 251.5L403.1 252.5L402.4 253.5M384.3 213.4L385.5 213.4L386.6 213.5L387.8 213.6L389 213.7L390.2 213.9L391.4 214.2L392.5 214.6L393.7 215.1L394.8 215.7L395.8 216.3L396.9 217L397.9 217.8L398.8 218.6L399.7 219.5L400.6 220.4L401.4 221.3L402.2 222.3L403 223.4L403.6 224.5L404.3 225.6L404.9 226.7L405.4 227.9L405.8 229.1L406.2 230.3L406.6 231.6L406.9 232.9L407.1 234.1L407.2 235.4L407.3 236.7L407.4 238L407.3 239.3L407.2 240.5L407.1 241.8L406.9 243.1L406.6 244.3M384.3 213.4L385.5 213.3L386.6 213.3L387.8 213.3L389 213.4L390.2 213.5L391.4 213.8L392.5 214.1L393.7 214.5L394.8 215L395.8 215.6L396.9 216.2L397.9 216.9L398.8 217.6L399.7 218.4L400.6 219.3L401.4 220.2L402.2 221.1L403 222.1L403.6 223.2L404.3 224.2L404.9 225.4L405.4 226.5L405.8 227.7L406.2 228.9L406.6 230.1L406.9 231.3M384.3 213.4L385.4 213.3L386.6 213.2L387.7 213.1L388.9 213.1L390 213.1L391.2 213.3L392.3 213.5L393.4 213.9L394.4 214.3L395.5 214.8L396.5 215.4L397.4 216L398.4 216.7L399.3 217.4L400.1 218.2L400.9 219.1L401.7 220L402.4 220.9M384.3 213.4L385.4 213.2L386.4 213L387.5 212.9L388.6 212.8L389.7 212.8L390.7 212.9L391.8 213L392.8 213.3L393.8 213.6L394.8 214.1L395.7 214.6L396.6 215.1L397.5 215.8L398.3 216.4M384.3 213.4L385.3 213.1L386.2 212.9L387.2 212.7L388.2 212.5L389.2 212.4L390.1 212.4L391.1 212.5L392 212.7L392.9 213L393.8 213.4L394.6 213.8M384.3 213.4L385.1 213.1L386 212.8L386.8 212.5L387.7 212.3L388.5 212.1L389.3 212.1L390.1 212.1L390.9 212.3L391.7 212.5M384.3 213.4L385 213L385.7 212.7L386.3 212.3L387 212.1L387.7 211.9L388.4 211.8L389 211.8L389.7 211.9M384.3 213.4L384.8 213L385.3 212.6L385.8 212.2L386.3 211.9L386.8 211.7L387.3 211.5L387.8 211.5M384.3 213.4L384.6 212.9L384.9 212.5L385.2 212.1L385.5 211.8L385.8 211.5L386.1 211.4L386.4 211.3M384.3 213.4L384.4 212.9L384.5 212.5L384.6 212.1L384.7 211.7L384.8 211.5L384.9 211.3M384.3 213.4L384.2 212.9L384.1 212.5L384 212.1L383.9 211.7L383.8 211.5L383.7 211.3M384.3 213.4L384 212.9L383.7 212.5L383.4 212.1L383.1 211.8L382.8 211.5L382.5 211.4L382.2 211.3M384.3 213.4L383.8 213L383.3 212.6L382.8 212.2L382.3 211.9L381.8 211.7L381.3 211.5L380.8 211.5M384.3 213.4L383.6 213L382.9 212.7L382.3 212.3L381.6 212.1L380.9 211.9L380.2 211.8L379.6 211.8L378.9 211.9M384.3 213.4L383.5 213.1L382.6 212.8L381.8 212.5L380.9 212.3L380.1 212.1L379.3 212.1L378.5 212.1L377.7 212.3L376.9 212.5M384.3 213.4L383.3 213.1L382.4 212.9L381.4 212.7L380.4 212.5L379.4 212.4L378.5 212.4L377.5 212.5L376.6 212.7L375.7 213L374.8 213.4L374 213.8M384.3 213.4L383.2 213.2L382.2 213L381.1 212.9L380 212.8L378.9 212.8L377.9 212.9L376.8 213L375.8 213.3L374.8 213.6L373.8 214.1L372.9 214.6L372 215.1L371.1 215.8L370.3 216.4M384.3 213.4L383.2 213.3L382 213.2L380.9 213.1L379.7 213.1L378.6 213.1L377.4 213.3L376.3 213.5L375.2 213.9L374.2 214.3L373.1 214.8L372.1 215.4L371.2 216L370.2 216.7L369.3 217.4L368.5 218.2L367.7 219.1L366.9 220L366.2 220.9M384.3 213.4L383.1 213.3L382 213.3L380.8 213.3L379.6 213.4L378.4 213.5L377.2 213.8L376.1 214.1L374.9 214.5L373.8 215L372.8 215.6L371.7 216.2L370.7 216.9L369.8 217.6L368.9 218.4L368 219.3L367.2 220.2L366.4 221.1L365.6 222.1L365 223.2L364.3 224.2L363.7 225.4L363.2 226.5L362.8 227.7L362.4 228.9L362 230.1L361.7 231.3M384.3 213.4L383.1 213.4L382 213.5L380.8 213.6L379.6 213.7L378.4 213.9L377.2 214.2L376.1 214.6L374.9 215.1L373.8 215.7L372.8 216.3L371.7 217L370.7 217.8L369.8 218.6L368.9 219.5L368 220.4L367.2 221.3L366.4 222.3L365.6 223.4L365 224.5L364.3 225.6L363.7 226.7L363.2 227.9L362.8 229.1L362.4 230.3L362 231.6L361.7 232.9L361.5 234.1L361.4 235.4L361.3 236.7L361.2 238L361.3 239.3L361.4 240.5L361.5 241.8L361.7 243.1L362 244.3M384.3 213.4L383.2 213.5L382 213.6L380.9 213.8L379.7 214L378.6 214.3L377.4 214.7L376.3 215.2L375.2 215.7L374.2 216.4L373.1 217.1L372.1 217.9L371.2 218.7L370.2 219.6L369.3 220.5L368.5 221.5L367.7 222.5L366.9 223.5L366.2 224.6L365.5 225.7L364.9 226.9L364.4 228.1L363.9 229.3L363.4 230.5L363 231.8L362.7 233.1L362.4 234.3L362.2 235.6L362.1 236.9L362 238.2L361.9 239.5L362 240.8L362.1 242.1L362.2 243.3L362.4 244.6L362.7 245.8L363 247L363.4 248.1L363.9 249.3L364.4 250.4L364.9 251.5L365.5 252.5L366.2 253.5M384.3 213.4L383.2 213.6L382.2 213.8L381.1 214L380 214.3L378.9 214.7L377.9 215.2L376.8 215.7L375.8 216.3L374.8 217L373.8 217.8L372.9 218.6L372 219.5L371.1 220.5L370.3 221.5L369.5 222.5L368.7 223.6L368 224.7L367.3 225.8L366.7 227L366.1 228.2L365.6 229.4L365.1 230.6L364.7 231.9L364.3 233.2L364 234.5L363.8 235.8L363.6 237.1L363.4 238.4L363.3 239.7L363.3 241L363.3 242.2L363.4 243.5L363.6 244.7L363.8 246L364 247.2L364.3 248.4L364.7 249.5L365.1 250.6L365.6 251.7L366.1 252.7L366.7 253.7L367.3 254.7L368 255.6L368.7 256.4L369.5 257.2L370.3 258M384.3 213.4L383.3 213.6L382.4 213.9L381.4 214.2L380.4 214.6L379.4 215L378.5 215.6L377.5 216.2L376.6 216.9L375.7 217.6L374.8 218.5L374 219.4L373.2 220.3L372.4 221.3L371.6 222.4L370.9 223.4L370.2 224.5L369.6 225.7L369 226.9L368.4 228.1L367.9 229.3L367.4 230.6L367 231.9L366.6 233.2L366.3 234.5L366 235.8L365.7 237.1L365.6 238.4L365.4 239.7L365.4 241L365.3 242.3L365.4 243.6L365.4 244.8L365.6 246.1L365.7 247.3L366 248.5L366.3 249.6L366.6 250.8L367 251.8L367.4 252.9L367.9 253.9L368.4 254.8L369 255.8L369.6 256.6L370.2 257.4L370.9 258.2L371.6 258.9L372.4 259.5L373.2 260.1L374 260.6M384.3 213.4L383.5 213.7L382.6 214L381.8 214.4L380.9 214.8L380.1 215.3L379.3 215.9L378.5 216.6L377.7 217.4L376.9 218.2L376.1 219.1L375.4 220L374.7 221L374 222.1L373.3 223.1L372.7 224.3L372.1 225.4L371.6 226.6L371.1 227.8L370.6 229.1L370.1 230.4L369.7 231.6L369.3 232.9L369 234.3L368.7 235.6L368.5 236.9L368.3 238.2L368.1 239.6L368 240.9L367.9 242.2L367.9 243.5L367.9 244.8L368 246L368.1 247.2L368.3 248.4L368.5 249.6L368.7 250.8L369 251.9L369.3 252.9L369.7 253.9L370.1 254.9L370.6 255.8L371.1 256.7L371.6 257.5L372.1 258.3L372.7 259L373.3 259.7L374 260.2L374.7 260.8L375.4 261.2L376.1 261.6L376.9 261.9M384.3 213.4L383.6 213.7L382.9 214.1L382.3 214.6L381.6 215L380.9 215.6L380.2 216.2L379.6 217L378.9 217.8L378.3 218.6L377.7 219.6L377.1 220.6L376.5 221.6L375.9 222.7L375.4 223.8L374.9 225L374.4 226.2L374 227.4L373.6 228.6L373.2 229.9L372.8 231.2L372.5 232.5L372.2 233.9L371.9 235.2L371.7 236.5L371.5 237.9L371.3 239.2L371.2 240.5L371.1 241.9L371 243.2L371 244.5L371 245.7L371.1 247L371.2 248.2L371.3 249.4L371.5 250.6L371.7 251.7L371.9 252.8L372.2 253.8L372.5 254.8L372.8 255.8L373.2 256.7L373.6 257.5L374 258.3L374.4 259L374.9 259.7L375.4 260.3L375.9 260.9L376.5 261.3L377.1 261.8L377.7 262.1L378.3 262.4L378.9 262.6M384.3 213.4L383.8 213.8L383.3 214.2L382.8 214.7L382.3 215.2L381.8 215.8L381.3 216.5L380.8 217.2L380.3 218.1L379.9 219L379.4 220L379 221L378.5 222.1L378.1 223.2L377.8 224.3L377.4 225.5L377 226.7L376.7 228L376.4 229.3L376.1 230.6L375.8 231.9L375.6 233.2L375.4 234.6L375.2 235.9L375 237.3L374.8 238.6L374.7 240L374.6 241.3L374.6 242.6L374.5 244L374.5 245.2L374.5 246.5L374.6 247.8L374.6 249L374.7 250.2L374.8 251.3L375 252.4L375.2 253.5L375.4 254.5L375.6 255.5L375.8 256.5L376.1 257.3L376.4 258.1L376.7 258.9L377 259.6L377.4 260.3L377.8 260.8L378.1 261.4L378.5 261.8L379 262.2L379.4 262.5L379.9 262.7L380.3 262.9L380.8 263M384.3 213.4L384 213.8L383.7 214.3L383.4 214.8L383.1 215.3L382.8 215.9L382.5 216.6L382.2 217.4L381.9 218.3L381.6 219.2L381.3 220.2L381 221.3L380.8 222.4L380.5 223.5L380.3 224.7L380.1 225.9L379.8 227.1L379.6 228.4L379.5 229.7L379.3 231L379.1 232.3L379 233.7L378.8 235L378.7 236.4L378.6 237.8L378.5 239.1L378.4 240.5L378.4 241.8L378.3 243.2L378.3 244.5L378.3 245.8L378.3 247.1L378.3 248.3L378.4 249.5L378.4 250.7L378.5 251.8L378.6 252.9L378.7 254L378.8 255L379 256L379.1 256.9L379.3 257.8L379.5 258.6L379.6 259.3L379.8 260L380.1 260.6L380.3 261.2L380.5 261.7L380.8 262.1L381 262.5L381.3 262.8L381.6 263L381.9 263.1L382.2 263.2M384.3 213.4L384.2 213.8L384.1 214.3L384 214.8L383.9 215.4L383.8 216L383.7 216.7L383.6 217.5L383.5 218.4L383.4 219.4L383.3 220.4L383.2 221.4L383.1 222.5L383 223.7L382.9 224.9L382.9 226.1L382.8 227.3L382.7 228.6L382.7 229.9L382.6 231.2L382.6 232.6L382.5 233.9L382.5 235.3L382.4 236.7L382.4 238L382.4 239.4L382.3 240.7L382.3 242.1L382.3 243.4L382.3 244.7L382.3 246L382.3 247.3L382.3 248.6L382.3 249.8L382.3 251L382.4 252.1L382.4 253.2L382.4 254.3L382.5 255.3L382.5 256.2L382.6 257.1L382.6 258L382.7 258.8L382.7 259.5L382.8 260.2L382.9 260.8L382.9 261.4L383 261.9L383.1 262.3L383.2 262.6L383.3 262.9L383.4 263.1L383.5 263.2L383.6 263.3M384.3 213.4L384.4 213.8L384.5 214.3L384.6 214.8L384.7 215.4L384.8 216L384.9 216.7L385 217.5L385.1 218.4L385.2 219.4L385.3 220.4L385.4 221.4L385.5 222.5L385.6 223.7L385.7 224.9L385.7 226.1L385.8 227.3L385.9 228.6L385.9 229.9L386 231.2L386 232.6L386.1 233.9L386.1 235.3L386.2 236.7L386.2 238L386.2 239.4L386.3 240.7L386.3 242.1L386.3 243.4L386.3 244.7L386.3 246L386.3 247.3L386.3 248.6L386.3 249.8L386.3 251L386.2 252.1L386.2 253.2L386.2 254.3L386.1 255.3L386.1 256.2L386 257.1L386 258L385.9 258.8L385.9 259.5L385.8 260.2L385.7 260.8L385.7 261.4L385.6 261.9L385.5 262.3L385.4 262.6L385.3 262.9L385.2 263.1L385.1 263.2L385 263.3M384.3 213.4L384.6 213.8L384.9 214.3L385.2 214.8L385.5 215.3L385.8 215.9L386.1 216.6L386.4 217.4L386.7 218.3L387 219.2L387.3 220.2L387.6 221.3L387.8 222.4L388.1 223.5L388.3 224.7L388.5 225.9L388.8 227.1L389 228.4L389.1 229.7L389.3 231L389.5 232.3L389.6 233.7L389.8 235L389.9 236.4L390 237.8L390.1 239.1L390.2 240.5L390.2 241.8L390.3 243.2L390.3 244.5L390.3 245.8L390.3 247.1L390.3 248.3L390.2 249.5L390.2 250.7L390.1 251.8L390 252.9L389.9 254L389.8 255L389.6 256L389.5 256.9L389.3 257.8L389.1 258.6L389 259.3L388.8 260L388.5 260.6L388.3 261.2L388.1 261.7L387.8 262.1L387.6 262.5L387.3 262.8L387 263L386.7 263.1L386.4 263.2M384.3 213.4L384.8 213.8L385.3 214.2L385.8 214.7L386.3 215.2L386.8 215.8L387.3 216.5L387.8 217.2L388.3 218.1L388.7 219L389.2 220L389.6 221L390.1 222.1L390.5 223.2L390.8 224.3L391.2 225.5L391.6 226.7L391.9 228L392.2 229.3L392.5 230.6L392.8 231.9L393 233.2L393.2 234.6L393.4 235.9L393.6 237.3L393.8 238.6L393.9 240L394 241.3L394 242.6L394.1 244L394.1 245.2L394.1 246.5L394 247.8L394 249L393.9 250.2L393.8 251.3L393.6 252.4L393.4 253.5L393.2 254.5L393 255.5L392.8 256.5L392.5 257.3L392.2 258.1L391.9 258.9L391.6 259.6L391.2 260.3L390.8 260.8L390.5 261.4L390.1 261.8L389.6 262.2L389.2 262.5L388.7 262.7L388.3 262.9L387.8 263M384.3 213.4L385 213.7L385.7 214.1L386.3 214.6L387 215L387.7 215.6L388.4 216.2L389 217L389.7 217.8L390.3 218.6L390.9 219.6L391.5 220.6L392.1 221.6L392.7 222.7L393.2 223.8L393.7 225L394.2 226.2L394.6 227.4L395 228.6L395.4 229.9L395.8 231.2L396.1 232.5L396.4 233.9L396.7 235.2L396.9 236.5L397.1 237.9L397.3 239.2L397.4 240.5L397.5 241.9L397.6 243.2L397.6 244.5L397.6 245.7L397.5 247L397.4 248.2L397.3 249.4L397.1 250.6L396.9 251.7L396.7 252.8L396.4 253.8L396.1 254.8L395.8 255.8L395.4 256.7L395 257.5L394.6 258.3L394.2 259L393.7 259.7L393.2 260.3L392.7 260.9L392.1 261.3L391.5 261.8L390.9 262.1L390.3 262.4L389.7 262.6M384.3 212L384.1 212L383.9 212L383.7 212L383.5 212L383.3 212L383.1 212L382.9 212.1L382.7 212.1L382.5 212.1L382.3 212.2L382.2 212.2L382 212.2L381.8 212.3L381.7 212.3L381.5 212.4L381.4 212.5L381.2 212.5L381.1 212.6L381 212.6L380.9 212.7L380.8 212.8L380.7 212.9L380.6 212.9L380.5 213L380.5 213.1L380.4 213.2L380.4 213.2L380.4 213.3L380.4 213.4L380.4 213.5L380.4 213.6L380.4 213.6L380.4 213.7L380.4 213.8L380.5 213.9L380.5 213.9L380.6 214L380.7 214.1L380.8 214.2L380.9 214.2L381 214.3L381.1 214.4L381.2 214.4L381.4 214.5L381.5 214.5L381.7 214.6L381.8 214.6L382 214.7L382.2 214.7L382.3 214.8L382.5 214.8L382.7 214.9L382.9 214.9L383.1 214.9L383.3 214.9L383.5 215L383.7 215L383.9 215L384.1 215L384.3 215L384.5 215L384.7 215L384.9 215L385.1 215L385.3 214.9L385.5 214.9L385.7 214.9L385.9 214.9L386.1 214.8L386.3 214.8L386.4 214.7L386.6 214.7L386.8 214.6L386.9 214.6L387.1 214.5L387.2 214.5L387.4 214.4L387.5 214.4L387.6 214.3L387.7 214.2L387.8 214.2L387.9 214.1L388 214L388.1 213.9L388.1 213.9L388.2 213.8L388.2 213.7L388.2 213.6L388.2 213.6L388.2 213.5L388.2 213.4L388.2 213.3L388.2 213.2L388.2 213.2L388.1 213.1L388.1 213L388 212.9L387.9 212.9L387.8 212.8L387.7 212.7L387.6 212.6L387.5 212.6L387.4 212.5L387.2 212.5L387.1 212.4L386.9 212.3L386.8 212.3L386.6 212.2L386.4 212.2L386.3 212.2L386.1 212.1L385.9 212.1L385.7 212.1L385.5 212L385.3 212L385.1 212L384.9 212L384.7 212L384.5 212L384.3 212M384.3 211.2L383.9 211.2L383.5 211.2L383.1 211.2L382.7 211.3L382.3 211.3L381.9 211.4L381.5 211.4L381.1 211.5L380.7 211.5L380.4 211.6L380 211.7L379.7 211.8L379.3 211.9L379 212L378.7 212.1L378.4 212.2L378.2 212.3L377.9 212.5L377.7 212.6L377.5 212.7L377.3 212.9L377.1 213L376.9 213.1L376.8 213.3L376.7 213.5L376.6 213.6L376.5 213.8L376.5 213.9L376.4 214.1L376.4 214.2L376.4 214.4L376.5 214.5L376.5 214.7L376.6 214.9L376.7 215L376.8 215.2L376.9 215.3L377.1 215.5L377.3 215.6L377.5 215.7L377.7 215.9L377.9 216L378.2 216.1L378.4 216.3L378.7 216.4L379 216.5L379.3 216.6L379.7 216.7L380 216.8L380.4 216.8L380.7 216.9L381.1 217L381.5 217.1L381.9 217.1L382.3 217.2L382.7 217.2L383.1 217.2L383.5 217.2L383.9 217.3L384.3 217.3L384.7 217.3L385.1 217.2L385.5 217.2L385.9 217.2L386.3 217.2L386.7 217.1L387.1 217.1L387.5 217L387.9 216.9L388.2 216.8L388.6 216.8L388.9 216.7L389.3 216.6L389.6 216.5L389.9 216.4L390.2 216.3L390.4 216.1L390.7 216L390.9 215.9L391.1 215.7L391.3 215.6L391.5 215.5L391.7 215.3L391.8 215.2L391.9 215L392 214.9L392.1 214.7L392.1 214.5L392.2 214.4L392.2 214.2L392.2 214.1L392.1 213.9L392.1 213.8L392 213.6L391.9 213.5L391.8 213.3L391.7 213.1L391.5 213L391.3 212.9L391.1 212.7L390.9 212.6L390.7 212.5L390.4 212.3L390.2 212.2L389.9 212.1L389.6 212L389.3 211.9L388.9 211.8L388.6 211.7L388.2 211.6L387.9 211.5L387.5 211.5L387.1 211.4L386.7 211.4L386.3 211.3L385.9 211.3L385.5 211.2L385.1 211.2L384.7 211.2L384.3 211.2M375.3 213.1L374.9 213.3L374.6 213.5L374.3 213.7L374 213.9L373.7 214.1L373.5 214.3L373.3 214.6L373.1 214.8L373 215L372.9 215.2L372.8 215.5L372.7 215.7L372.7 215.9L372.7 216.2L372.8 216.4L372.9 216.6L373 216.9L373.1 217.1L373.3 217.3L373.5 217.5L373.7 217.7L374 218L374.3 218.2L374.6 218.4L374.9 218.5L375.3 218.7L375.7 218.9L376.1 219.1L376.6 219.2L377 219.4L377.5 219.5L378 219.7L378.5 219.8L379 219.9L379.6 220L380.2 220.1L380.7 220.2L381.3 220.2L381.9 220.3L382.5 220.3L383.1 220.4L383.7 220.4L384.3 220.4L384.9 220.4L385.5 220.4L386.1 220.3L386.7 220.3L387.3 220.2L387.9 220.2L388.4 220.1L389 220L389.6 219.9L390.1 219.8L390.6 219.7L391.1 219.5L391.6 219.4L392 219.2L392.5 219.1L392.9 218.9L393.3 218.7L393.7 218.5L394 218.4L394.3 218.2L394.6 218L394.9 217.7L395.1 217.5L395.3 217.3L395.5 217.1L395.6 216.9L395.7 216.6L395.8 216.4L395.9 216.2L395.9 215.9L395.9 215.7L395.8 215.5L395.7 215.2L395.6 215L395.5 214.8L395.3 214.6L395.1 214.3L394.9 214.1L394.6 213.9L394.3 213.7L394 213.5L393.7 213.3L393.3 213.1M370.7 216.1L370.4 216.3L370.1 216.6L369.9 216.9L369.7 217.2L369.6 217.5L369.5 217.8L369.4 218.1L369.4 218.4L369.4 218.7L369.5 219L369.6 219.3L369.7 219.6L369.9 219.9L370.1 220.1L370.4 220.4L370.7 220.7L371 221L371.4 221.2L371.8 221.5L372.3 221.7L372.7 222L373.2 222.2L373.8 222.4L374.3 222.6L374.9 222.8L375.6 223L376.2 223.2L376.9 223.3L377.5 223.5L378.2 223.6L379 223.7L379.7 223.8L380.4 223.9L381.2 224L382 224L382.7 224.1L383.5 224.1L384.3 224.1L385.1 224.1L385.9 224.1L386.6 224L387.4 224L388.2 223.9L388.9 223.8L389.6 223.7L390.4 223.6L391.1 223.5L391.7 223.3L392.4 223.2L393 223L393.7 222.8L394.3 222.6L394.8 222.4L395.4 222.2L395.9 222L396.3 221.7L396.8 221.5L397.2 221.2L397.6 221L397.9 220.7L398.2 220.4L398.5 220.1L398.7 219.9L398.9 219.6L399 219.3L399.1 219L399.2 218.7L399.2 218.4L399.2 218.1L399.1 217.8L399 217.5L398.9 217.2L398.7 216.9L398.5 216.6L398.2 216.3L397.9 216.1M367.4 219.3L367.2 219.7L367 220L366.8 220.3L366.7 220.7L366.6 221.1L366.6 221.4L366.6 221.8L366.7 222.1L366.8 222.5L367 222.8L367.2 223.2L367.4 223.5L367.7 223.8L368.1 224.2L368.5 224.5L368.9 224.8L369.4 225.1L370 225.4L370.5 225.7L371.1 226L371.8 226.2L372.4 226.5L373.1 226.7L373.9 226.9L374.6 227.1L375.4 227.3L376.2 227.5L377.1 227.6L377.9 227.8L378.8 227.9L379.7 228L380.6 228.1L381.5 228.1L382.4 228.2L383.4 228.2L384.3 228.2L385.2 228.2L386.2 228.2L387.1 228.1L388 228.1L388.9 228L389.8 227.9L390.7 227.8L391.5 227.6L392.4 227.5L393.2 227.3L394 227.1L394.7 226.9L395.5 226.7L396.2 226.5L396.8 226.2L397.5 226L398.1 225.7L398.6 225.4L399.2 225.1L399.7 224.8L400.1 224.5L400.5 224.2L400.9 223.8L401.2 223.5L401.4 223.2L401.6 222.8L401.8 222.5L401.9 222.1L402 221.8L402 221.4L402 221.1L401.9 220.7L401.8 220.3L401.6 220L401.4 219.7L401.2 219.3M364.7 223.3L364.5 223.7L364.4 224.1L364.3 224.5L364.2 224.9L364.3 225.3L364.4 225.7L364.5 226.1L364.7 226.5L364.9 226.9L365.2 227.3L365.6 227.7L366 228L366.4 228.4L366.9 228.8L367.5 229.1L368.1 229.4L368.7 229.8L369.4 230.1L370.1 230.4L370.9 230.6L371.7 230.9L372.5 231.1L373.4 231.4L374.3 231.6L375.2 231.8L376.1 231.9L377.1 232.1L378.1 232.2L379.1 232.3L380.1 232.4L381.2 232.5L382.2 232.6L383.3 232.6L384.3 232.6L385.3 232.6L386.4 232.6L387.4 232.5L388.5 232.4L389.5 232.3L390.5 232.2L391.5 232.1L392.5 231.9L393.4 231.8L394.3 231.6L395.2 231.4L396.1 231.1L396.9 230.9L397.7 230.6L398.5 230.4L399.2 230.1L399.9 229.8L400.5 229.4L401.1 229.1L401.7 228.8L402.2 228.4L402.6 228L403 227.7L403.4 227.3L403.7 226.9L403.9 226.5L404.1 226.1L404.2 225.7L404.3 225.3L404.4 224.9L404.3 224.5L404.2 224.1L404.1 223.7L403.9 223.3M362.7 227.9L362.6 228.4L362.5 228.8L362.6 229.2L362.7 229.7L362.8 230.1L363 230.5L363.3 231L363.6 231.4L364 231.8L364.4 232.2L364.9 232.6L365.5 233L366.1 233.3L366.7 233.7L367.4 234.1L368.1 234.4L368.9 234.7L369.7 235L370.6 235.3L371.5 235.5L372.4 235.8L373.4 236L374.4 236.2L375.5 236.4L376.5 236.6L377.6 236.7L378.7 236.9L379.8 237L380.9 237L382 237.1L383.2 237.1L384.3 237.1L385.4 237.1L386.6 237.1L387.7 237L388.8 237L389.9 236.9L391 236.7L392.1 236.6L393.1 236.4L394.2 236.2L395.2 236L396.2 235.8L397.1 235.5L398 235.3L398.9 235L399.7 234.7L400.5 234.4L401.2 234.1L401.9 233.7L402.5 233.3L403.1 233L403.7 232.6L404.2 232.2L404.6 231.8L405 231.4L405.3 231L405.6 230.5L405.8 230.1L405.9 229.7L406 229.2L406.1 228.8L406 228.4L405.9 227.9M361.5 232.5L361.5 232.9L361.5 233.4L361.6 233.8L361.8 234.3L362 234.8L362.3 235.2L362.6 235.6L363 236.1L363.5 236.5L364 236.9L364.6 237.3L365.2 237.7L365.9 238.1L366.6 238.4L367.4 238.8L368.2 239.1L369 239.4L369.9 239.7L370.9 240L371.9 240.3L372.9 240.5L373.9 240.7L375 240.9L376.1 241.1L377.3 241.3L378.4 241.4L379.6 241.5L380.7 241.6L381.9 241.6L383.1 241.7L384.3 241.7L385.5 241.7L386.7 241.6L387.9 241.6L389 241.5L390.2 241.4L391.3 241.3L392.5 241.1L393.6 240.9L394.7 240.7L395.7 240.5L396.7 240.3L397.7 240L398.7 239.7L399.6 239.4L400.4 239.1L401.2 238.8L402 238.4L402.7 238.1L403.4 237.7L404 237.3L404.6 236.9L405.1 236.5L405.6 236.1L406 235.6L406.3 235.2L406.6 234.8L406.8 234.3L407 233.8L407.1 233.4L407.1 232.9L407.1 232.5M361.1 237.2L361.2 237.7L361.3 238.1L361.4 238.6L361.7 239L361.9 239.5L362.3 239.9L362.7 240.4L363.1 240.8L363.7 241.2L364.2 241.6L364.9 242L365.6 242.4L366.3 242.8L367.1 243.1L367.9 243.5L368.8 243.8L369.7 244.1L370.7 244.4L371.7 244.6L372.7 244.9L373.8 245.1L374.9 245.3L376 245.5L377.1 245.6L378.3 245.8L379.5 245.9L380.7 246L381.9 246L383.1 246.1L384.3 246.1L385.5 246.1L386.7 246L387.9 246L389.1 245.9L390.3 245.8L391.5 245.6L392.6 245.5L393.7 245.3L394.8 245.1L395.9 244.9L396.9 244.6L397.9 244.4L398.9 244.1L399.8 243.8L400.7 243.5L401.5 243.1L402.3 242.8L403 242.4L403.7 242L404.4 241.6L404.9 241.2L405.5 240.8L405.9 240.4L406.3 239.9L406.7 239.5L406.9 239L407.2 238.6L407.3 238.1L407.4 237.7L407.5 237.2M361.5 241.9L361.6 242.4L361.8 242.8L362 243.3L362.3 243.7L362.6 244.2L363 244.6L363.5 245L364 245.4L364.6 245.8L365.2 246.2L365.9 246.6L366.6 247L367.4 247.3L368.2 247.6L369 248L369.9 248.3L370.9 248.5L371.9 248.8L372.9 249L373.9 249.3L375 249.5L376.1 249.6L377.3 249.8L378.4 249.9L379.6 250L380.7 250.1L381.9 250.2L383.1 250.2L384.3 250.2L385.5 250.2L386.7 250.2L387.9 250.1L389 250L390.2 249.9L391.3 249.8L392.5 249.6L393.6 249.5L394.7 249.3L395.7 249L396.7 248.8L397.7 248.5L398.7 248.3L399.6 248L400.4 247.6L401.2 247.3L402 247L402.7 246.6L403.4 246.2L404 245.8L404.6 245.4L405.1 245L405.6 244.6L406 244.2L406.3 243.7L406.6 243.3L406.8 242.8L407 242.4L407.1 241.9M362.8 246.9L363 247.3L363.3 247.8L363.6 248.2L364 248.6L364.4 249L364.9 249.4L365.5 249.8L366.1 250.1L366.7 250.5L367.4 250.9L368.1 251.2L368.9 251.5L369.7 251.8L370.6 252.1L371.5 252.4L372.4 252.6L373.4 252.8L374.4 253L375.5 253.2L376.5 253.4L377.6 253.5L378.7 253.7L379.8 253.8L380.9 253.8L382 253.9L383.2 253.9L384.3 253.9L385.4 253.9L386.6 253.9L387.7 253.8L388.8 253.8L389.9 253.7L391 253.5L392.1 253.4L393.1 253.2L394.2 253L395.2 252.8L396.2 252.6L397.1 252.4L398 252.1L398.9 251.8L399.7 251.5L400.5 251.2L401.2 250.9L401.9 250.5L402.5 250.1L403.1 249.8L403.7 249.4L404.2 249L404.6 248.6L405 248.2L405.3 247.8L405.6 247.3L405.8 246.9M364.7 251.1L364.9 251.5L365.2 251.9L365.6 252.2L366 252.6L366.4 253L366.9 253.3L367.5 253.7L368.1 254L368.7 254.3L369.4 254.6L370.1 254.9L370.9 255.2L371.7 255.5L372.5 255.7L373.4 255.9L374.3 256.1L375.2 256.3L376.1 256.5L377.1 256.7L378.1 256.8L379.1 256.9L380.1 257L381.2 257.1L382.2 257.1L383.3 257.2L384.3 257.2L385.3 257.2L386.4 257.1L387.4 257.1L388.5 257L389.5 256.9L390.5 256.8L391.5 256.7L392.5 256.5L393.4 256.3L394.3 256.1L395.2 255.9L396.1 255.7L396.9 255.5L397.7 255.2L398.5 254.9L399.2 254.6L399.9 254.3L400.5 254L401.1 253.7L401.7 253.3L402.2 253L402.6 252.6L403 252.2L403.4 251.9L403.7 251.5L403.9 251.1M367.4 255.1L367.7 255.4L368.1 255.8L368.5 256.1L368.9 256.4L369.4 256.7L370 257L370.5 257.3L371.1 257.5L371.8 257.8L372.4 258L373.1 258.3L373.9 258.5L374.6 258.7L375.4 258.9L376.2 259L377.1 259.2L377.9 259.3L378.8 259.5L379.7 259.6L380.6 259.6L381.5 259.7L382.4 259.8L383.4 259.8L384.3 259.8L385.2 259.8L386.2 259.8L387.1 259.7L388 259.6L388.9 259.6L389.8 259.5L390.7 259.3L391.5 259.2L392.4 259L393.2 258.9L394 258.7L394.7 258.5L395.5 258.3L396.2 258L396.8 257.8L397.5 257.5L398.1 257.3L398.6 257L399.2 256.7L399.7 256.4L400.1 256.1L400.5 255.8L400.9 255.4L401.2 255.1M371 258.6L371.4 258.9L371.8 259.1L372.3 259.4L372.7 259.6L373.2 259.8L373.8 260.1L374.3 260.3L374.9 260.5L375.6 260.6L376.2 260.8L376.9 261L377.5 261.1L378.2 261.2L379 261.3L379.7 261.4L380.4 261.5L381.2 261.6L382 261.7L382.7 261.7L383.5 261.7L384.3 261.7L385.1 261.7L385.9 261.7L386.6 261.7L387.4 261.6L388.2 261.5L388.9 261.4L389.6 261.3L390.4 261.2L391.1 261.1L391.7 261L392.4 260.8L393 260.6L393.7 260.5L394.3 260.3L394.8 260.1L395.4 259.8L395.9 259.6L396.3 259.4L396.8 259.1L397.2 258.9L397.6 258.6M375.3 261.3L375.7 261.4L376.1 261.6L376.6 261.8L377 261.9L377.5 262.1L378 262.2L378.5 262.3L379 262.4L379.6 262.5L380.2 262.6L380.7 262.7L381.3 262.8L381.9 262.8L382.5 262.9L383.1 262.9L383.7 262.9L384.3 262.9L384.9 262.9L385.5 262.9L386.1 262.9L386.7 262.8L387.3 262.8L387.9 262.7L388.4 262.6L389 262.5L389.6 262.4L390.1 262.3L390.6 262.2L391.1 262.1L391.6 261.9L392 261.8L392.5 261.6L392.9 261.4L393.3 261.3M382.3 263.2L382.7 263.3L383.1 263.3L383.5 263.3L383.9 263.3L384.3 263.3L384.7 263.3L385.1 263.3L385.5 263.3L385.9 263.3L386.3 263.2" fill="none" stroke="#000" stroke-opacity="0.78" stroke-width="0.7" stroke-linejoin="round"/>
<ellipse cx="384.3" cy="237.2" rx="23.2" ry="26.1" fill="none" stroke="#000" stroke-opacity="0.55" stroke-width="0.7"/>
<line x1="299.9" y1="298" x2="299.9" y2="173.6" stroke="#808080" stroke-width="1"/>
<line x1="299.9" y1="298" x2="384.2" y2="330.6" stroke="#808080" stroke-width="1"/>
<line x1="384.2" y1="330.6" x2="468.5" y2="298.5" stroke="#808080" stroke-width="1"/>
<line x1="299.9" y1="298" x2="297.1" y2="296.9" stroke="#808080" stroke-width="0.8"/>
<line x1="299.9" y1="266.9" x2="297.1" y2="265.8" stroke="#808080" stroke-width="0.8"/>
<line x1="299.9" y1="235.8" x2="297.1" y2="234.7" stroke="#808080" stroke-width="0.8"/>
<line x1="299.9" y1="204.7" x2="297.1" y2="203.6" stroke="#808080" stroke-width="0.8"/>
<line x1="299.9" y1="173.6" x2="297.1" y2="172.5" stroke="#808080" stroke-width="0.8"/>
<line x1="299.9" y1="298" x2="297.1" y2="299.1" stroke="#808080" stroke-width="0.8"/>
<line x1="384.2" y1="330.6" x2="387" y2="331.7" stroke="#808080" stroke-width="0.8"/>
<line x1="342" y1="314.3" x2="339.2" y2="315.4" stroke="#808080" stroke-width="0.8"/>
<line x1="426.4" y1="314.6" x2="429.2" y2="315.7" stroke="#808080" stroke-width="0.8"/>
<line x1="384.2" y1="330.6" x2="381.4" y2="331.7" stroke="#808080" stroke-width="0.8"/>
<line x1="468.5" y1="298.5" x2="471.3" y2="299.6" stroke="#808080" stroke-width="0.8"/>
<g font-family="'Liberation Sans', Arial, sans-serif" fill="#262626" stroke="#262626" stroke-width="0.15">
<text x="292.3" y="301.7" text-anchor="end" font-size="14">-1</text>
<text x="292.3" y="270.6" text-anchor="end" font-size="14">-0.5</text>
<text x="292.3" y="239.5" text-anchor="end" font-size="14">0</text>
<text x="292.3" y="208.4" text-anchor="end" font-size="14">0.5</text>
<text x="292.3" y="177.3" text-anchor="end" font-size="14">1</text>
<text x="292.3" y="314.4" text-anchor="end" font-size="14">-1</text>
<text x="330.8" y="330" text-anchor="middle" font-size="14">0</text>
<text x="373" y="346.1" text-anchor="middle" font-size="14">1</text>
<text x="398" y="346.1" text-anchor="middle" font-size="14">-1</text>
<text x="437.3" y="328.6" text-anchor="middle" font-size="14">0</text>
<text x="478.4" y="313.7" text-anchor="middle" font-size="14">1</text>
<text x="324.9" y="358" text-anchor="middle" font-size="16">x</text>
<text x="442.9" y="355.5" text-anchor="middle" font-size="16">y</text>
<text transform="translate(261.6 237) rotate(-90)" text-anchor="middle" font-size="15">z</text>
</g>
<defs><linearGradient id="pg" x1="0" y1="1" x2="0" y2="0">
<stop offset="0.0000" stop-color="rgb(62,38,168)"/>
<stop offset="0.0635" stop-color="rgb(69,55,213)"/>
<stop offset="0.1270" stop-color="rgb(72,77,240)"/>
<stop offset="0.1905" stop-color="rgb(69,99,253)"/>
<stop offset="0.2540" stop-color="rgb(50,124,252)"/>
<stop offset="0.3175" stop-color="rgb(43,145,239)"/>
<stop offset="0.3810" stop-color="rgb(32,165,227)"/>
<stop offset="0.4444" stop-color="rgb(8,181,208)"/>
<stop offset="0.5079" stop-color="rgb(25,191,182)"/>
<stop offset="0.5714" stop-color="rgb(55,200,151)"/>
<stop offset="0.6349" stop-color="rgb(100,205,111)"/>
<stop offset="0.6984" stop-color="rgb(157,201,67)"/>
<stop offset="0.7619" stop-color="rgb(209,191,39)"/>
<stop offset="0.8254" stop-color="rgb(248,186,61)"/>
<stop offset="0.8889" stop-color="rgb(252,207,48)"/>
<stop offset="0.9524" stop-color="rgb(245,233,36)"/>
<stop offset="1.0000" stop-color="rgb(249,251,21)"/>
</linearGradient></defs>
<rect x="495" y="142" width="7.4" height="190.8" fill="url(#pg)" stroke="#555" stroke-width="0.5"/>
<g font-family="'Liberation Sans', Arial, sans-serif" fill="#262626" font-size="13.5" stroke="#262626" stroke-width="0.15">
<line x1="500.4" y1="142.3" x2="502.4" y2="142.3" stroke="#555" stroke-width="0.6"/>
<text x="505.6" y="147">1</text>
<line x1="500.4" y1="169.6" x2="502.4" y2="169.6" stroke="#555" stroke-width="0.6"/>
<text x="505.6" y="174.2">0.9</text>
<line x1="500.4" y1="196.8" x2="502.4" y2="196.8" stroke="#555" stroke-width="0.6"/>
<text x="505.6" y="201.5">0.8</text>
<line x1="500.4" y1="224.1" x2="502.4" y2="224.1" stroke="#555" stroke-width="0.6"/>
<text x="505.6" y="228.8">0.7</text>
<line x1="500.4" y1="251.3" x2="502.4" y2="251.3" stroke="#555" stroke-width="0.6"/>
<text x="505.6" y="256">0.6</text>
<line x1="500.4" y1="278.6" x2="502.4" y2="278.6" stroke="#555" stroke-width="0.6"/>
<text x="505.6" y="283.2">0.5</text>
<line x1="500.4" y1="305.8" x2="502.4" y2="305.8" stroke="#555" stroke-width="0.6"/>
<text x="505.6" y="310.5">0.4</text>
<line x1="500.4" y1="333.1" x2="502.4" y2="333.1" stroke="#555" stroke-width="0.6"/>
<text x="505.6" y="337.8">0.3</text>
</g>
<text transform="translate(538.8 242.2) rotate(90)" text-anchor="middle" font-family="'Liberation Serif', 'DejaVu Serif', serif" font-style="italic" font-size="17.5" fill="#111" stroke="#111" stroke-width="0.35">r<tspan font-size="13.5" dy="3.5">k</tspan></text>
<g id="diagram">
<ellipse cx="182.9" cy="90.2" rx="37.3" ry="14.3" transform="rotate(-46 182.9 90.2)" fill="#6c93d8"/>
<path d="M221 47.5V104L157.5 118.6" fill="none" stroke="#000" stroke-width="1.4" stroke-dasharray="1.4 1.5"/>
<line x1="156.8" y1="120.1" x2="156.8" y2="14.2" stroke="#000" stroke-width="2.6"/>
<polygon points="156.8,6.5 160.7,14.7 152.9,14.7" fill="#000"/>
<line x1="156.8" y1="118.8" x2="241.4" y2="81.6" stroke="#000" stroke-width="2.6"/>
<polygon points="248.4,78.5 242.5,85.4 239.3,78.2" fill="#000"/>
<line x1="156.8" y1="118.8" x2="258.3" y2="129.4" stroke="#000" stroke-width="2.6"/>
<polygon points="266,130.2 257.4,133.2 258.2,125.5" fill="#000"/>
<line x1="156.8" y1="118.8" x2="216" y2="50.7" stroke="#70ad47" stroke-width="2.7"/>
<polygon points="221,44.9 218.6,53.7 212.6,48.5" fill="#70ad47"/>
<path d="M157.7 78 Q170 80 176.7 90.3" fill="none" stroke="#ffc000" stroke-width="1.3"/>
<path d="M210.1 106.6 Q214.5 114 210.1 122.9" fill="none" stroke="#ffc000" stroke-width="1.3"/>
<g font-family="'Liberation Serif', 'DejaVu Serif', serif" font-style="italic" stroke-width="0.3">
<text x="167.2" y="75.5" text-anchor="middle" font-size="13.5" fill="#ffc000" stroke="#ffc000">β</text>
<text x="221" y="118" text-anchor="middle" font-size="13.5" fill="#ffc000" stroke="#ffc000">α</text>
<g fill="#000" stroke="#000">
<text x="252.2" y="78" text-anchor="middle" font-size="13">x</text>
<text x="271.2" y="137.3" text-anchor="middle" font-size="13">y</text>
<text x="163.3" y="12.7" font-size="13">z</text>
<text x="173.8" y="13" font-size="9.5" font-style="normal">∥</text>
<text x="183.3" y="12.7" font-size="13">B</text>
<text x="191.7" y="15" font-size="9.5" font-style="normal">0</text>
</g></g>
<g font-family="'Liberation Sans', Arial, sans-serif" font-size="10.9" fill="#70ad47" stroke="#70ad47" stroke-width="0.2"><text x="209.3" y="23.7">Longitudinal axis</text><text x="209.3" y="36.3">of hyperfine tensor</text></g>
<g font-family="'Liberation Serif', 'DejaVu Serif', serif" fill="#000" stroke="#000" stroke-width="0.3" font-size="12.5">
<g font-style="italic" text-anchor="middle"><text x="286.5" y="74.5">x</text><text x="286.5" y="89.2">y</text><text x="286.5" y="104.2">z</text></g>
<text transform="translate(276.41 96.07) scale(1.442 3.426)" font-size="12" stroke="none">(</text>
<text transform="translate(291.08 96.07) scale(1.442 3.426)" font-size="12" stroke="none">)</text>
<text x="306.3" y="91.2" text-anchor="middle" font-size="14.5">=</text>
<text transform="translate(314.42 96.76) scale(1.827 3.667)" font-size="12" stroke="none">(</text>
<text transform="translate(395.38 96.76) scale(1.987 3.667)" font-size="12" stroke="none">)</text>
<text x="322.9" y="74.8" textLength="71" lengthAdjust="spacingAndGlyphs"><tspan font-style="italic">r</tspan><tspan font-style="italic" font-size="9" dy="2">k</tspan><tspan dy="-2"> </tspan>sin <tspan font-style="italic">β</tspan> cos <tspan font-style="italic">α</tspan></text>
<text x="324.2" y="89.4" textLength="68.7" lengthAdjust="spacingAndGlyphs"><tspan font-style="italic">r</tspan><tspan font-style="italic" font-size="9" dy="2">k</tspan><tspan dy="-2"> </tspan>sin <tspan font-style="italic">β</tspan> sin <tspan font-style="italic">α</tspan></text>
<text x="337.4" y="103.3" textLength="42" lengthAdjust="spacingAndGlyphs"><tspan font-style="italic">r</tspan><tspan font-style="italic" font-size="9" dy="2">k</tspan><tspan dy="-2"> </tspan>cos <tspan font-style="italic">β</tspan></text>
</g>
</g>
</svg>
</body></html>
